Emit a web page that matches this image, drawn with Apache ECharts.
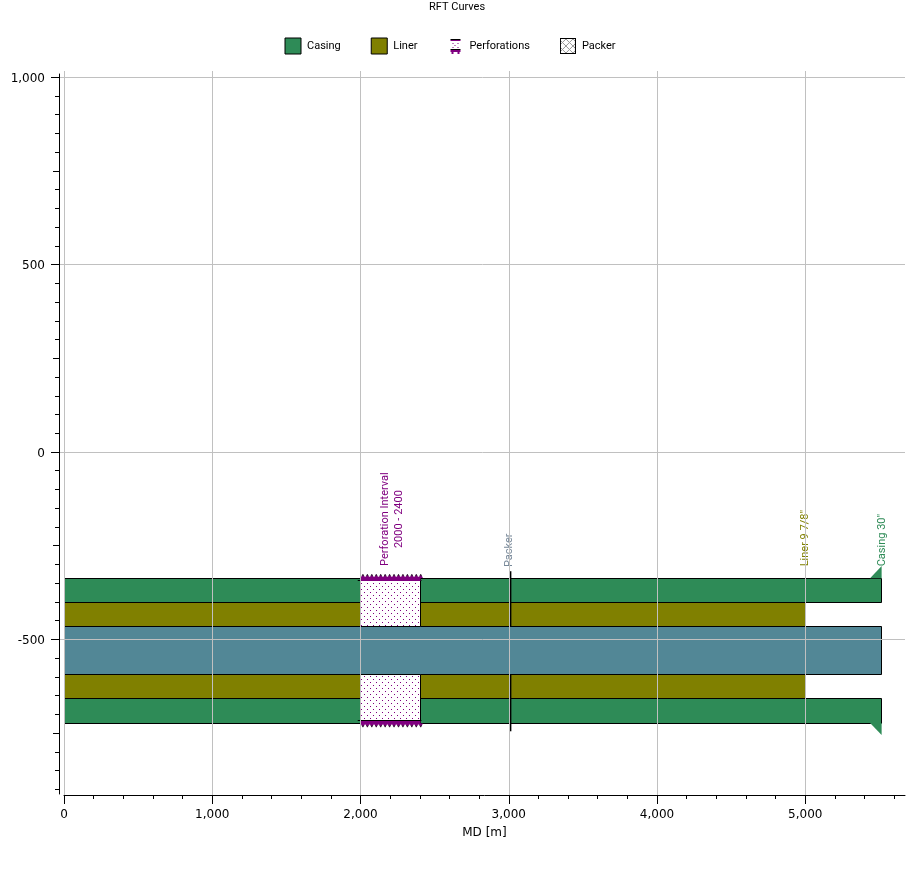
<!DOCTYPE html>
<html><head><meta charset="utf-8">
<style>html,body{margin:0;padding:0;background:#fff}#c{width:916px;height:872px}</style>
<script src="https://cdn.jsdelivr.net/npm/echarts@6/dist/echarts.min.js"></script>
</head><body><div id="c"></div>
<script>
// ---- data ----
const casingBands = [[0,5515,-337,-401],[0,5515,-657,-723]];
const linerBands = [[0,5000,-401,-465],[0,5000,-593,-657]];
const tubingBands = [[0,5515,-465,-593]];
const perfBlocks = [[2000,2403,-337,-465],[2000,2403,-593,-723]];
const perfShotX = [2015,2045,2075,2105,2135,2165,2195,2225,2255,2285,2315,2345,2375,2405];
const perfRows = [[-344,-326,-333],[-716,-734,-727]];
const perfSpan = [1980,2410];
const casingShoes = [[5437,5515,-337,-304],[5437,5515,-723,-755]];
const packerLines = [[3010,-318,-465],[3010,-593,-745]];
const markerTexts = ['Perforation Interval\n2000 - 2400','Packer','Liner 9 7/8"','Casing 30"'];
const markerX = [2210,3000,5000,5520];
const markerY = [-179,-307,-305,-305];
const markerColors = ['#800080','#778899','#808000','#2e8b57'];
const xLabelTicks = [0,1000,2000,3000,4000,5000];
const xMinorTicks = [200,400,600,800,1200,1400,1600,1800,2200,2400,2600,2800,3200,3400,3600,3800,4200,4400,4600,4800,5200,5400,5600];
const yLabelTicks = [-500,0,500,1000];
const yMidTicks = [-750,-250,250,750];
const yMinorTicks = [-900,-850,-800,-700,-650,-600,-550,-450,-400,-350,-300,-200,-150,-100,-50,50,100,150,200,300,350,400,450,550,600,650,700,800,850,900,950];
const legendNames = ['Casing','Liner','Perforations','Packer'];

// ---- scales & layout ----
const FONT_T = 'Roboto', FONT_A = '"DejaVu Sans"';
const mk = (w,h,f)=>{const c=document.createElement('canvas');c.width=w;c.height=h;f(c.getContext('2d'));return c;};
const dots = mk(6,6,g=>{g.fillStyle='#fff';g.fillRect(0,0,6,6);g.fillStyle='#800080';g.fillRect(1,1,1,1);g.fillRect(4,4,1,1);});
const iconPacker = mk(16,16,g=>{g.fillStyle='#fff';g.fillRect(0,0,16,16);g.strokeStyle='#999';g.lineWidth=1;
  for(let i=-16;i<32;i+=7){g.beginPath();g.moveTo(i,0);g.lineTo(i+16,16);g.moveTo(i+16,0);g.lineTo(i,16);g.stroke();}
  g.strokeStyle='#000';g.strokeRect(.5,.5,15,15);});
const iconPerf = mk(16,16,g=>{g.fillStyle='#fff';g.fillRect(0,0,16,16);g.fillStyle='#000';g.fillRect(3,1,10,1);g.fillRect(3,11,10,1);
  g.fillStyle='#800080';g.fillRect(3,2,10,1);[[5,5],[10,5],[7,7],[10,9],[5,9]].forEach(p=>g.fillRect(p[0],p[1],1,1));
  g.fillRect(3,12,10,2);g.fillRect(4,14,2,2);g.fillRect(10,14,2,2);});

const snap = v => Math.round(v-0.5)+0.5;
const bandRender = fill => (params,api)=>{
  const a = api.coord([api.value(0),api.value(2)]), b = api.coord([api.value(1),api.value(3)]);
  const x0=snap(a[0]), x1=snap(b[0]), y0=snap(a[1]), y1=snap(b[1]);
  return {type:'rect',shape:{x:x0,y:y0,width:x1-x0,height:y1-y0},style:{fill,stroke:'#000',lineWidth:1}};
};
const shotData = [];
perfRows.forEach(r=>perfShotX.forEach(x=>shotData.push([x,r[0],r[1]])));
const baseData = perfRows.map(r=>[perfSpan[0],perfSpan[1],r[0],r[2]]);

const common = {coordinateSystem:'cartesian2d',xAxisIndex:0,yAxisIndex:0,clip:false};
const series = [
 {...common,type:'custom',name:'Casing',data:casingBands,itemStyle:{color:'#2e8b57'},renderItem:bandRender('#2e8b57'),z:2},
 {...common,type:'custom',name:'Liner',data:linerBands,itemStyle:{color:'#808000'},renderItem:bandRender('#808000'),z:2},
 {...common,type:'custom',name:'Tubing',data:tubingBands,renderItem:bandRender('#528796'),z:2},
 {...common,type:'custom',name:'CasingShoe',data:casingShoes,renderItem:(p,api)=>{
   const a=api.coord([api.value(0),api.value(2)]),b=api.coord([api.value(1),api.value(3)]);
   return {type:'polygon',shape:{points:[[a[0],a[1]],[b[0],b[1]],[b[0],a[1]]]},style:{fill:'#2e8b57'}};},z:3},
 {...common,type:'custom',name:'Perforations',data:perfBlocks,itemStyle:{color:'#800080'},renderItem:(p,api)=>{
   const a=api.coord([api.value(0),api.value(2)]),b=api.coord([api.value(1),api.value(3)]);
   const x0=snap(a[0]),x1=snap(b[0]),y0=snap(a[1]),y1=snap(b[1]);
   return {type:'rect',shape:{x:x0,y:y0,width:x1-x0,height:y1-y0},style:{fill:{image:dots,repeat:'repeat'},stroke:'#000',lineWidth:1}};},z:3},
 {...common,type:'custom',name:'PerfBand',data:baseData,renderItem:(p,api)=>{
   const a=api.coord([api.value(0),api.value(2)]),b=api.coord([api.value(1),api.value(3)]);
   const y=snap(a[1]), up=b[1]<a[1], top=Math.min(y,b[1]), h=Math.abs(y-b[1])+(up?0.5:0);
   const lineEl={type:'line',shape:{x1:a[0],y1:y,x2:b[0],y2:y},style:{stroke:'#000',lineWidth:1}};
   const bandEl={type:'rect',shape:{x:a[0]+3,y:top,width:b[0]-a[0]-4,height:h},style:{fill:'#800080'}};
   return {type:'group',children:up?[lineEl,bandEl]:[bandEl,lineEl]};},z:4},
 {...common,type:'custom',name:'PerfShots',data:shotData,renderItem:(p,api)=>{
   const base=api.coord([0,api.value(1)])[1], tip=api.coord([0,api.value(2)])[1], cx=api.coord([api.value(0),0])[0];
   const up=tip<base, b2=base+(up?-3:3), e=tip+(up?2:-2);
   return {type:'group',children:[
     {type:'polygon',shape:{points:[[cx-2.3,b2],[cx,tip],[cx+2.3,b2]]},style:{fill:'#800080'}},
     {type:'polyline',shape:{points:[[cx-1,e],[cx,tip],[cx+1,e]]},style:{stroke:'#000',lineWidth:.6,fill:null}}]};},z:5},
 {...common,type:'custom',name:'Packer',data:packerLines,itemStyle:{color:'#fff'},renderItem:(p,api)=>{
   const a=api.coord([api.value(0),api.value(1)]),b=api.coord([api.value(0),api.value(2)]);
   return {type:'line',shape:{x1:a[0],y1:a[1],x2:a[0],y2:b[1]},style:{stroke:'#000',lineWidth:2}};},z:5},
 {...common,type:'custom',name:'MarkerLabels',data:markerX.map((x,i)=>[x,markerY[i]]),renderItem:(p,api)=>{
   const i=p.dataIndex, c=api.coord([api.value(0),api.value(1)]), t=markerTexts[i];
   return {type:'text',x:c[0],y:c[1],rotation:Math.PI/2,style:{text:t,fill:markerColors[i],font:'11px '+FONT_T,align:t.includes('\n')?'center':'left',verticalAlign:'middle',lineHeight:14}};},z:6}
];

// each tick tier has its own grid, all sharing the same scales
const grids=[],xAxes=[],yAxes=[];
const tier = (g,xa,ya)=>{grids.push(g);const i=grids.length-1;xAxes.push({gridIndex:i,type:'value',...xa});yAxes.push({gridIndex:i,type:'value',...ya});};
const H = {show:false};
const gridBox = {left:60,top:71,width:845,height:724};
const xPlot = {min:-29,max:5672.7}, yPlot = {min:-915,max:1016.5};
const xBase = {min:0,max:5672.7}, yBase = {min:-912.5,max:1008.5};
const noSplit = {splitLine:{show:false}};
const line = {lineStyle:{color:'#000',width:1}};
const noLine = {show:false,onZero:false};

tier(gridBox,
 {...xPlot,z:8,axisLine:noLine,axisTick:{show:false,customValues:xLabelTicks},axisLabel:{show:false},splitLine:{show:true,lineStyle:{color:'#c0c0c0',width:1}}},
 {...yPlot,z:8,axisLine:noLine,axisTick:{show:false,customValues:yLabelTicks},axisLabel:{show:false},splitLine:{show:true,lineStyle:{color:'#c0c0c0',width:1}}});
const xGrid = {left:64,top:71,width:841,height:724};
tier(xGrid,
 {...xBase,z:9,name:'MD [m]',nameLocation:'middle',nameGap:32,nameTextStyle:{color:'#000',fontFamily:FONT_A,fontSize:12},
  axisLine:{show:true,onZero:false,...line},axisTick:{show:true,length:9,customValues:xLabelTicks,...line},
  axisLabel:{show:true,customValues:xLabelTicks,margin:14,color:'#000',fontFamily:FONT_A,fontSize:12,formatter:v=>v.toLocaleString('en-US')},...noSplit},
 {...yPlot,...H});
tier(xGrid,
 {...xBase,z:9,axisLine:noLine,axisTick:{show:true,length:4,customValues:xMinorTicks,...line},axisLabel:{show:false},...noSplit},
 {...yPlot,...H});
const yGrid = {left:59,top:74,width:846,height:720};
const yLabelGrid = {left:59,top:75.5,width:846,height:720};
tier(yGrid,{...xBase,...H},
 {...yBase,z:9,axisLine:{show:true,onZero:false,...line},axisTick:{show:true,length:8,customValues:yLabelTicks,...line},axisLabel:{show:false},...noSplit});
tier(yLabelGrid,{...xBase,...H},
 {...yBase,z:9,axisLine:noLine,axisTick:{show:false,customValues:yLabelTicks},
  axisLabel:{show:true,customValues:yLabelTicks,margin:14,color:'#000',fontFamily:FONT_A,fontSize:12,formatter:v=>v.toLocaleString('en-US')},...noSplit});
tier(yGrid,{...xBase,...H},
 {...yBase,z:9,axisLine:noLine,axisTick:{show:true,length:6,customValues:yMidTicks,...line},axisLabel:{show:false},...noSplit});
tier(yGrid,{...xBase,...H},
 {...yBase,z:9,axisLine:noLine,axisTick:{show:true,length:4,customValues:yMinorTicks,...line},axisLabel:{show:false},...noSplit});

const swatch = {borderColor:'#000',borderWidth:1};
const chart = echarts.init(document.getElementById('c'),null,{renderer:'canvas'});
chart.setOption({
 animation:false,backgroundColor:'#fff',
 title:{text:'RFT Curves',left:429,top:2,padding:0,textStyle:{fontFamily:FONT_T,fontSize:11,fontWeight:'normal',color:'#000'}},
 legend:{left:284.5,top:37.5,padding:0,itemWidth:16,itemHeight:16,itemGap:30,selectedMode:false,
   textStyle:{fontFamily:FONT_T,fontSize:11,color:'#000',padding:[0,0,0,1]},
   data:[
    {name:legendNames[0],icon:'rect',itemStyle:swatch},
    {name:legendNames[1],icon:'rect',itemStyle:swatch},
    {name:legendNames[2],icon:'image://'+iconPerf.toDataURL()},
    {name:legendNames[3],icon:'image://'+iconPacker.toDataURL()}
   ]},
 grid:grids,xAxis:xAxes,yAxis:yAxes,series
});
</script></body></html>
